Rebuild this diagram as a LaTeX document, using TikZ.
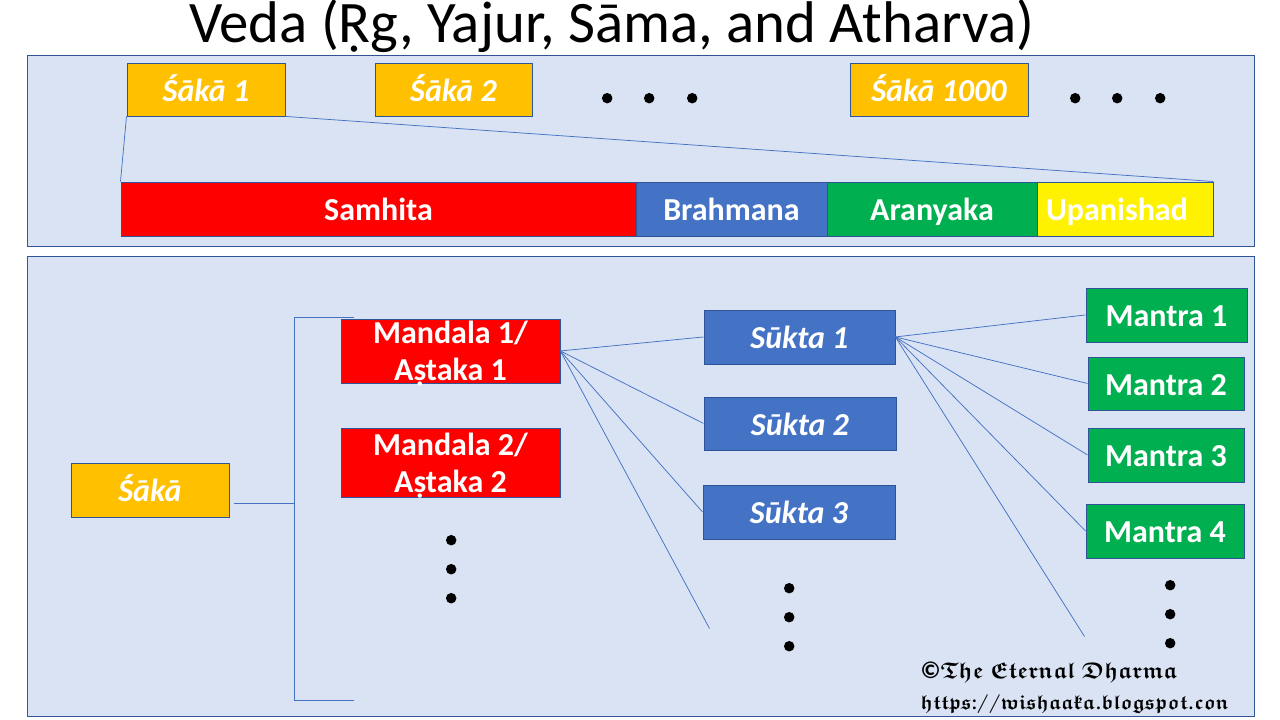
\documentclass[tikz,border=0pt]{standalone}
\usepackage{fontspec}
\setmainfont{Carlito}
\font\frakbrand=eufb10 at 22.8pt
\font\frakurl=eufb10 at 20.2pt
\definecolor{panelfill}{HTML}{DAE3F3}
\definecolor{edgeblue}{HTML}{2F5597}
\definecolor{lineblue}{HTML}{4472C4}
\definecolor{orangefill}{HTML}{FFC000}
\definecolor{bluefill}{HTML}{4472C4}
\definecolor{greenfill}{HTML}{00B050}
\tikzset{
  panel/.style={draw=edgeblue,fill=panelfill,line width=0.9pt,anchor=north west,inner sep=0},
  bx/.style={draw=edgeblue,line width=0.9pt,anchor=north west,inner sep=0,text=white,font=\fontsize{32}{37}\selectfont\bfseries,align=center},
  lone/.style={text height=26pt,text depth=2pt},
  sakabox/.style={bx,lone,fill=orangefill,font=\fontsize{32}{37}\selectfont\bfseries\itshape},
  suktabox/.style={bx,lone,fill=bluefill,font=\fontsize{32}{37}\selectfont\bfseries\itshape},
  mantrabox/.style={bx,lone,fill=greenfill},
  redbox/.style={bx,fill=red},
  link/.style={draw=lineblue,line width=0.75pt},
  bigdot/.style={circle,fill=black,inner sep=0,minimum size=10.5pt,xshift=0.7pt,yshift=-0.7pt},
}
\newcommand{\pbox}[7]{\node[#1,minimum width=#4pt-#3pt,minimum height=#6pt-#5pt] (#2) at (#3,#5) {#7};}
\newcommand{\twoline}[2]{\raisebox{-10pt}[0pt][0pt]{\begin{tabular}[c]{@{}c@{}}#1\\#2\end{tabular}}}
\begin{document}
\begin{tikzpicture}[x=1pt,y=-1pt]
\useasboundingbox (0.5,0.5) rectangle (1280.5,720.5);
\node[anchor=base,font=\fontsize{58.8}{70}\selectfont,inner sep=0] (title) at (612,42.5) {Veda (Ṛg, Yajur, Sāma, and Atharva)};
\pbox{panel}{top}{27}{1254}{55}{246}{}
\pbox{panel}{bottom}{27}{1254}{256}{716}{}
\pbox{sakabox}{s1}{127}{285}{63}{116}{Śākā 1}
\pbox{sakabox}{s2}{375}{532}{63}{116}{Śākā 2}
\pbox{sakabox}{s3}{850}{1028}{63}{116}{Śākā 1000}
\pbox{bx,lone,fill=red}{sam}{121}{636}{182}{236}{Samhita}
\pbox{bx,lone,fill=bluefill}{bra}{636}{827}{182}{236}{Brahmana}
\pbox{bx,lone,fill=greenfill}{ara}{827}{1037}{182}{236}{Aranyaka}
\node[bx,lone,fill=yellow,minimum width=176pt,minimum height=54pt] (upa) at (1037,182) {\hspace{-16pt}Upanishad};
\draw[link] (s1.south west) -- (sam.north west);
\draw[link] (s1.south east) -- (upa.north east);
\foreach \n/\x/\y in {d1/607/98,d2/649/98,d3/692/98,d4/1075/98,d5/1117/98,d6/1160/98,d7/451/540,d8/451/569,d9/451/598,d10/789/588,d11/789/617,d12/789/646,d13/1170/585,d14/1170/614,d15/1170/643}
  \node[bigdot] (\n) at (\x,\y) {};
\pbox{sakabox}{saka}{71}{229}{463}{517}{Śākā}
\pbox{redbox}{m1}{341}{560}{319}{383}{\twoline{Mandala 1/}{Aṣtaka 1}}
\pbox{redbox}{m2}{341}{560}{428}{497}{\twoline{Mandala 2/}{Aṣtaka 2}}
\pbox{suktabox}{k1}{704}{895}{310}{364}{Sūkta 1}
\pbox{suktabox}{k2}{704}{896}{397}{450}{Sūkta 2}
\pbox{suktabox}{k3}{703}{895}{485}{539}{Sūkta 3}
\pbox{mantrabox}{t1}{1086}{1247}{288}{342}{Mantra 1}
\pbox{mantrabox}{t2}{1088}{1244}{357}{410}{Mantra 2}
\pbox{mantrabox}{t3}{1088}{1244}{428}{482}{Mantra 3}
\pbox{mantrabox}{t4}{1086}{1244}{504}{558}{Mantra 4}
\coordinate (brk) at (295,504);
\coordinate (brtop) at (354,318);
\coordinate (brbot) at (354,701);
\coordinate (kfree) at (710,629);
\coordinate (tfree) at (1085,637);
\coordinate (sakaout) at (234,504);
\draw[link] (sakaout) -- (brk);
\draw[link] (brtop) -- (295,318) -- (295,701) -- (brbot);
\foreach \e in {k1.west,k2.west,k3.west,kfree} \draw[link] (m1.east) -- (\e);
\foreach \e in {t1.west,t2.west,t3.west,t4.west,tfree} \draw[link] (k1.east) -- (\e);
\node[anchor=base west,inner sep=0,font=\fontsize{24}{28}\selectfont] (brand) at (921,679) {\textbf{©}{\frakbrand The\hspace{7pt}Eternal\hspace{7pt}Dharma}};
\node[anchor=base west,inner sep=0] (url) at (921,710) {\frakurl https://wishaaka.blogspot.con};
\end{tikzpicture}
\end{document}
